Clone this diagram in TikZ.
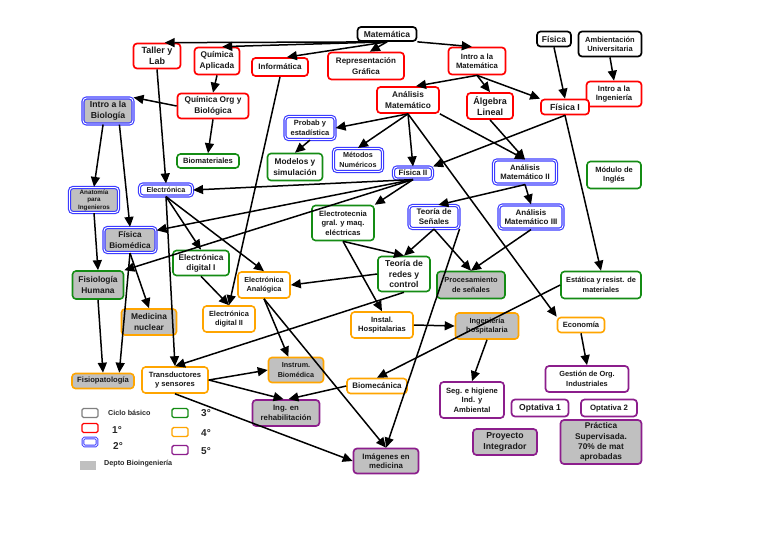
\documentclass[tikz,border=0pt]{standalone}
\usepackage{fontspec}
\setmainfont{Liberation Sans}
\usetikzlibrary{arrows.meta}
\definecolor{blue2}{RGB}{60,60,255}
\definecolor{green3}{RGB}{20,140,20}
\definecolor{orange4}{RGB}{255,165,0}
\definecolor{purple5}{RGB}{140,30,140}
\definecolor{depgray}{RGB}{192,192,192}
\definecolor{cbgray}{RGB}{128,128,128}
\begin{document}
\begin{tikzpicture}[x=1pt,y=-1pt,
  base/.style={rounded corners=3.5pt, align=center, inner sep=0.5pt, text=black!90, font=\bfseries\fontsize{7}{8.5}\selectfont},
  fs/.style 2 args={font=\bfseries\fontsize{#1}{#2}\selectfont},
  sz/.style 2 args={minimum width=#1pt, minimum height=#2pt},
  cb/.style={base, draw=black, line width=1.7pt, fill=white},
  yr1/.style={base, draw=red, line width=1.7pt, fill=white},
  yr2/.style={base, draw=blue2, double=white, double distance=0.9pt, line width=1.15pt, fill=white},
  yr3/.style={base, draw=green3, line width=1.6pt, fill=white},
  yr4/.style={base, draw=orange4, line width=1.6pt, fill=white},
  yr5/.style={base, draw=purple5, line width=1.7pt, fill=white},
  dep/.style={fill=depgray},
  arr/.style={-{Triangle[length=10pt,width=9pt]}, line width=1.5pt, black},
  lgtext/.style={anchor=west, inner sep=0pt, text=black!85},
]
\useasboundingbox (0,0) rectangle (768,544);
\fill[white] (0,0) rectangle (768,544);

% ---- nodes ----
\node[cb, sz={59}{14}, fs={8.5}{10}] (mat) at (387,34) {Matemática};
\node[cb, sz={34}{15}, fs={8.5}{10}] (fisica) at (554,39) {Física};
\node[cb, sz={63}{25}, fs={7.5}{9}] (ambient) at (610,44) {Ambientación\\Universitaria};
\node[yr1, sz={47}{25}, fs={9}{11}] (taller) at (157,56) {Taller y\\Lab};
\node[yr1, sz={45}{27}, fs={8.3}{10.5}] (quimap) at (217,61) {Química\\Aplicada};
\node[yr1, sz={56}{18}, fs={8}{9.5}] (informat) at (280,67) {Informática};
\node[yr1, sz={76}{27}, fs={8}{10.5}] (rep) at (366,66) {Representación\\Gráfica};
\node[yr1, sz={57}{27}, fs={7.7}{9.5}] (intromat) at (477,61) {Intro a la\\Matemática};
\node[yr1, sz={55}{25}, fs={7.7}{9.5}] (introing) at (614,94) {Intro a la\\Ingeniería};
\node[yr1, sz={62}{26}, fs={8.3}{10.5}] (analisis) at (408,100) {Análisis\\Matemático};
\node[yr1, sz={46}{26}, fs={9}{11}] (algebra) at (490,106) {Álgebra\\Lineal};
\node[yr1, sz={48}{15}, fs={8.8}{10}] (fisI) at (565,107) {Física I};
\node[yr1, sz={71}{25}, fs={8.3}{10.5}] (quimorg) at (213,106) {Química Org y\\Biológica};
\node[yr2, dep, sz={50}{26}, fs={8.7}{10.5}] (introbio) at (108,111) {Intro a la\\Biología};
\node[yr3, sz={62}{14}, fs={7.6}{9}] (biomat) at (208,161) {Biomateriales};
\node[yr2, sz={50}{23}, fs={7.5}{9.5}] (probab) at (310,128) {Probab y\\estadística};
\node[yr3, sz={55}{27}, fs={8.3}{10.5}] (modelos) at (295,167) {Modelos y\\simulación};
\node[yr2, sz={49}{23}, fs={7.2}{9.5}] (metodos) at (358,160) {Métodos\\Numéricos};
\node[yr2, sz={39}{12}, fs={7.8}{9}] (fisII) at (413,173) {Física II};
\node[yr2, sz={63}{24}, fs={7.8}{9.5}] (amII) at (525,172) {Análisis\\Matemático II};
\node[yr3, sz={54}{27}, fs={7.5}{9.5}] (ingles) at (614,175) {Módulo de\\Inglés};
\node[yr2, sz={53}{12}, fs={7.2}{8.5}] (electronica) at (166,190) {Electrónica};
\node[yr2, dep, sz={49}{25}, fs={6.3}{7.5}] (anatomia) at (94,200) {Anatomía\\para\\Ingenieros};
\node[yr3, sz={62}{35}, fs={7.6}{9.7}] (electrotec) at (343,223) {Electrotecnia\\gral. y maq.\\eléctricas};
\node[yr2, sz={50}{23}, fs={8}{10}] (tseniales) at (434,217) {Teoría de\\Señales};
\node[yr2, sz={64}{24}, fs={8}{9.5}] (amIII) at (531,217) {Análisis\\Matemático III};
\node[yr2, dep, sz={52}{25}, fs={8.2}{10.5}] (fisbio) at (130,240) {Física\\Biomédica};
\node[yr3, sz={56}{25}, fs={8.3}{10}] (edigI) at (201,263) {Electrónica\\digital I};
\node[yr4, sz={52}{26}, fs={7.3}{9.5}] (eanal) at (264,285) {Electrónica\\Analógica};
\node[yr3, sz={52}{35}, fs={8.6}{10.5}] (tredes) at (404,274) {Teoría de\\redes y\\control};
\node[yr3, dep, sz={68}{27}, fs={7.4}{9.5}] (proc) at (471,285) {Procesamiento\\de señales};
\node[yr3, sz={80}{27}, fs={7.4}{9.5}] (estatica) at (601,285) {Estática y resist. de\\materiales};
\node[yr3, dep, sz={51}{28}, fs={8.4}{10.5}] (fisiol) at (98,285) {Fisiología\\Humana};
\node[yr4, dep, sz={55}{26}, fs={8.4}{10.5}] (mednuc) at (149,322) {Medicina\\nuclear};
\node[yr4, sz={52}{26}, fs={7.4}{9.5}] (edigII) at (229,319) {Electrónica\\digital II};
\node[yr4, sz={62}{26}, fs={7.6}{9.5}] (instal) at (382,325) {Instal.\\Hospitalarias};
\node[yr4, dep, sz={63}{26}, fs={7.4}{9.5}] (inghosp) at (487,326) {Ingeniería\\hospitalaria};
\node[yr4, sz={47}{15}, fs={7.6}{9}] (economia) at (581,325) {Economía};
\node[yr4, dep, sz={62}{15}, fs={7.6}{9}] (fisiopat) at (103,381) {Fisiopatología};
\node[yr4, sz={66}{26}, fs={7.6}{9.5}] (transd) at (175,380) {Transductores\\y sensores};
\node[yr4, dep, sz={55}{25}, fs={7.2}{9.5}] (instrum) at (296,370) {Instrum.\\Biomédica};
\node[yr4, sz={60}{15}, fs={8}{9.5}] (biomec) at (377,386) {Biomecánica};
\node[yr5, dep, sz={67}{26}, fs={7.8}{9.5}] (ingrehab) at (286,413) {Ing. en\\rehabilitación};
\node[yr5, sz={83}{26}, fs={7.4}{9.5}] (gestion) at (587,379) {Gestión de Org.\\Industriales};
\node[yr5, sz={64}{36}, fs={7.6}{9.5}] (seg) at (472,400) {Seg. e higiene\\Ind. y\\Ambiental};
\node[yr5, sz={57}{17}, fs={8.6}{10}] (opt1) at (540,408) {Optativa 1};
\node[yr5, sz={56}{17}, fs={7.8}{9}] (opt2) at (609,408) {Optativa 2};
\node[yr5, dep, sz={64}{26}, fs={8.7}{10.5}] (proyecto) at (505,442) {Proyecto\\Integrador};
\node[yr5, dep, sz={81}{44}, fs={8.3}{10.2}] (practica) at (601,442) {Práctica\\Supervisada.\\70\% de mat\\aprobadas};
\node[yr5, dep, sz={65}{25}, fs={7.8}{9.5}] (imagenes) at (386,461) {Imágenes en\\medicina};

% ---- legend ----
\node[base, draw=cbgray, line width=1.4pt, fill=white, rounded corners=1.5pt, sz={16}{9}] (lg0) at (90,413) {};
\node[lgtext, font=\bfseries\fontsize{7.2}{8}\selectfont] (lg0t) at (108,413) {Ciclo básico};
\node[base, draw=red, line width=1.4pt, fill=white, rounded corners=1.5pt, sz={16}{9}] (lg1) at (90,428) {};
\node[lgtext, font=\bfseries\fontsize{10}{11}\selectfont] (lg1t) at (112,430) {1°};
\node[base, draw=blue2, double=white, double distance=0.8pt, line width=1pt, fill=white, rounded corners=1.5pt, sz={14}{8}] (lg2) at (90,442) {};
\node[lgtext, font=\bfseries\fontsize{10}{11}\selectfont] (lg2t) at (113,446) {2°};
\node[fill=depgray, inner sep=0pt, sz={16}{9}] (lgd) at (88,465) {};
\node[lgtext, font=\bfseries\fontsize{7.2}{8}\selectfont] (lgdt) at (104,464) {Depto Bioingeniería};
\node[base, draw=green3, line width=1.4pt, fill=white, rounded corners=1.5pt, sz={16}{9}] (lg3) at (180,413) {};
\node[lgtext, font=\bfseries\fontsize{10}{11}\selectfont] (lg3t) at (201,413) {3°};
\node[base, draw=orange4, line width=1.4pt, fill=white, rounded corners=1.5pt, sz={16}{9}] (lg4) at (180,432) {};
\node[lgtext, font=\bfseries\fontsize{10}{11}\selectfont] (lg4t) at (201,433) {4°};
\node[base, draw=purple5, line width=1.4pt, fill=white, rounded corners=1.5pt, sz={16}{9}] (lg5) at (180,450) {};
\node[lgtext, font=\bfseries\fontsize{10}{11}\selectfont] (lg5t) at (201,451) {5°};

% ---- connectors ----
\draw[arr] (mat.south) -- (taller.60);
\draw[arr] (mat.south) -- (quimap.70);
\draw[arr] (mat.south) -- (informat.55);
\draw[arr] (mat.south) -- (rep.75);
\draw[arr] (mat.south east) -- (intromat.110);
\draw[arr] (fisica.south) -- (fisI.north);
\draw[arr] (ambient.south) -- (introing.north);
\draw[arr] (intromat.south) -- (analisis.60);
\draw[arr] (intromat.south) -- (algebra.north);
\draw[arr] (intromat.south) -- (fisI.north west);
\draw[arr] (analisis.south east) -- (amII.north);
\draw[arr] (algebra.south) -- (amII.north);
\draw[arr] (analisis.south) -- (probab.east);
\draw[arr] (analisis.south) -- (metodos.north);
\draw[arr] (analisis.south) -- (fisII.north);
\draw[arr] (analisis.south) -- (economia.north west);
\draw[arr] (fisI.south) -- (fisII.north east);
\draw[arr] (fisI.south) -- (estatica.north);
\draw[arr] (fisII.south) -- (electronica.east);
\draw[arr] (fisII.south) -- (fisbio.20);
\draw[arr] (fisII.south) -- (fisiol.north east);
\draw[arr] (fisII.south) -- (electrotec.north east);
\draw[arr] (amII.south) -- (tseniales.70);
\draw[arr] (amII.south) -- (amIII.north);
\draw[arr] (tseniales.south) -- (tredes.north);
\draw[arr] (tseniales.south) -- (proc.north);
\draw[arr] (amIII.south) -- (proc.north);
\draw[arr] (tseniales.south east) -- (imagenes.north);
\draw[arr] (electrotec.south) -- (tredes.north);
\draw[arr] (electrotec.south) -- (instal.north);
\draw[arr] (tredes.west) -- (eanal.east);
\draw[arr] (tredes.south) -- (transd.north);
\draw[arr] (electronica.south) -- (transd.north);
\draw[arr] (electronica.south) -- (edigI.north);
\draw[arr] (electronica.south) -- (eanal.north);
\draw[arr] (edigI.south) -- (edigII.north);
\draw[arr] (informat.south) -- (edigII.north);
\draw[arr] (taller.south) -- (electronica.north);
\draw[arr] (eanal.south) -- (instrum.120);
\draw[arr] (eanal.south) -- (imagenes.north);
\draw[arr] (transd.east) -- (instrum.west);
\draw[arr] (transd.east) -- (ingrehab.100);
\draw[arr] (transd.south) -- (imagenes.west);
\draw[arr] (biomec.west) -- (ingrehab.80);
\draw[arr] (estatica.west) -- (biomec.north);
\draw[arr] (instal.east) -- (inghosp.west);
\draw[arr] (inghosp.south) -- (seg.north);
\draw[arr] (economia.south) -- (gestion.north);
\draw[arr] (quimap.south) -- (quimorg.north);
\draw[arr] (quimorg.west) -- (introbio.north east);
\draw[arr] (quimorg.south) -- (biomat.north);
\draw[arr] (probab.south) -- (modelos.north);
\draw[arr] (introbio.250) -- (anatomia.north);
\draw[arr] (introbio.310) -- (fisbio.north);
\draw[arr] (anatomia.south) -- (fisiol.north);
\draw[arr] (fisbio.south) -- (mednuc.north);
\draw[arr] (fisbio.south) -- (fisiopat.27);
\draw[arr] (fisiol.south) -- (fisiopat.north);
\end{tikzpicture}
\end{document}
